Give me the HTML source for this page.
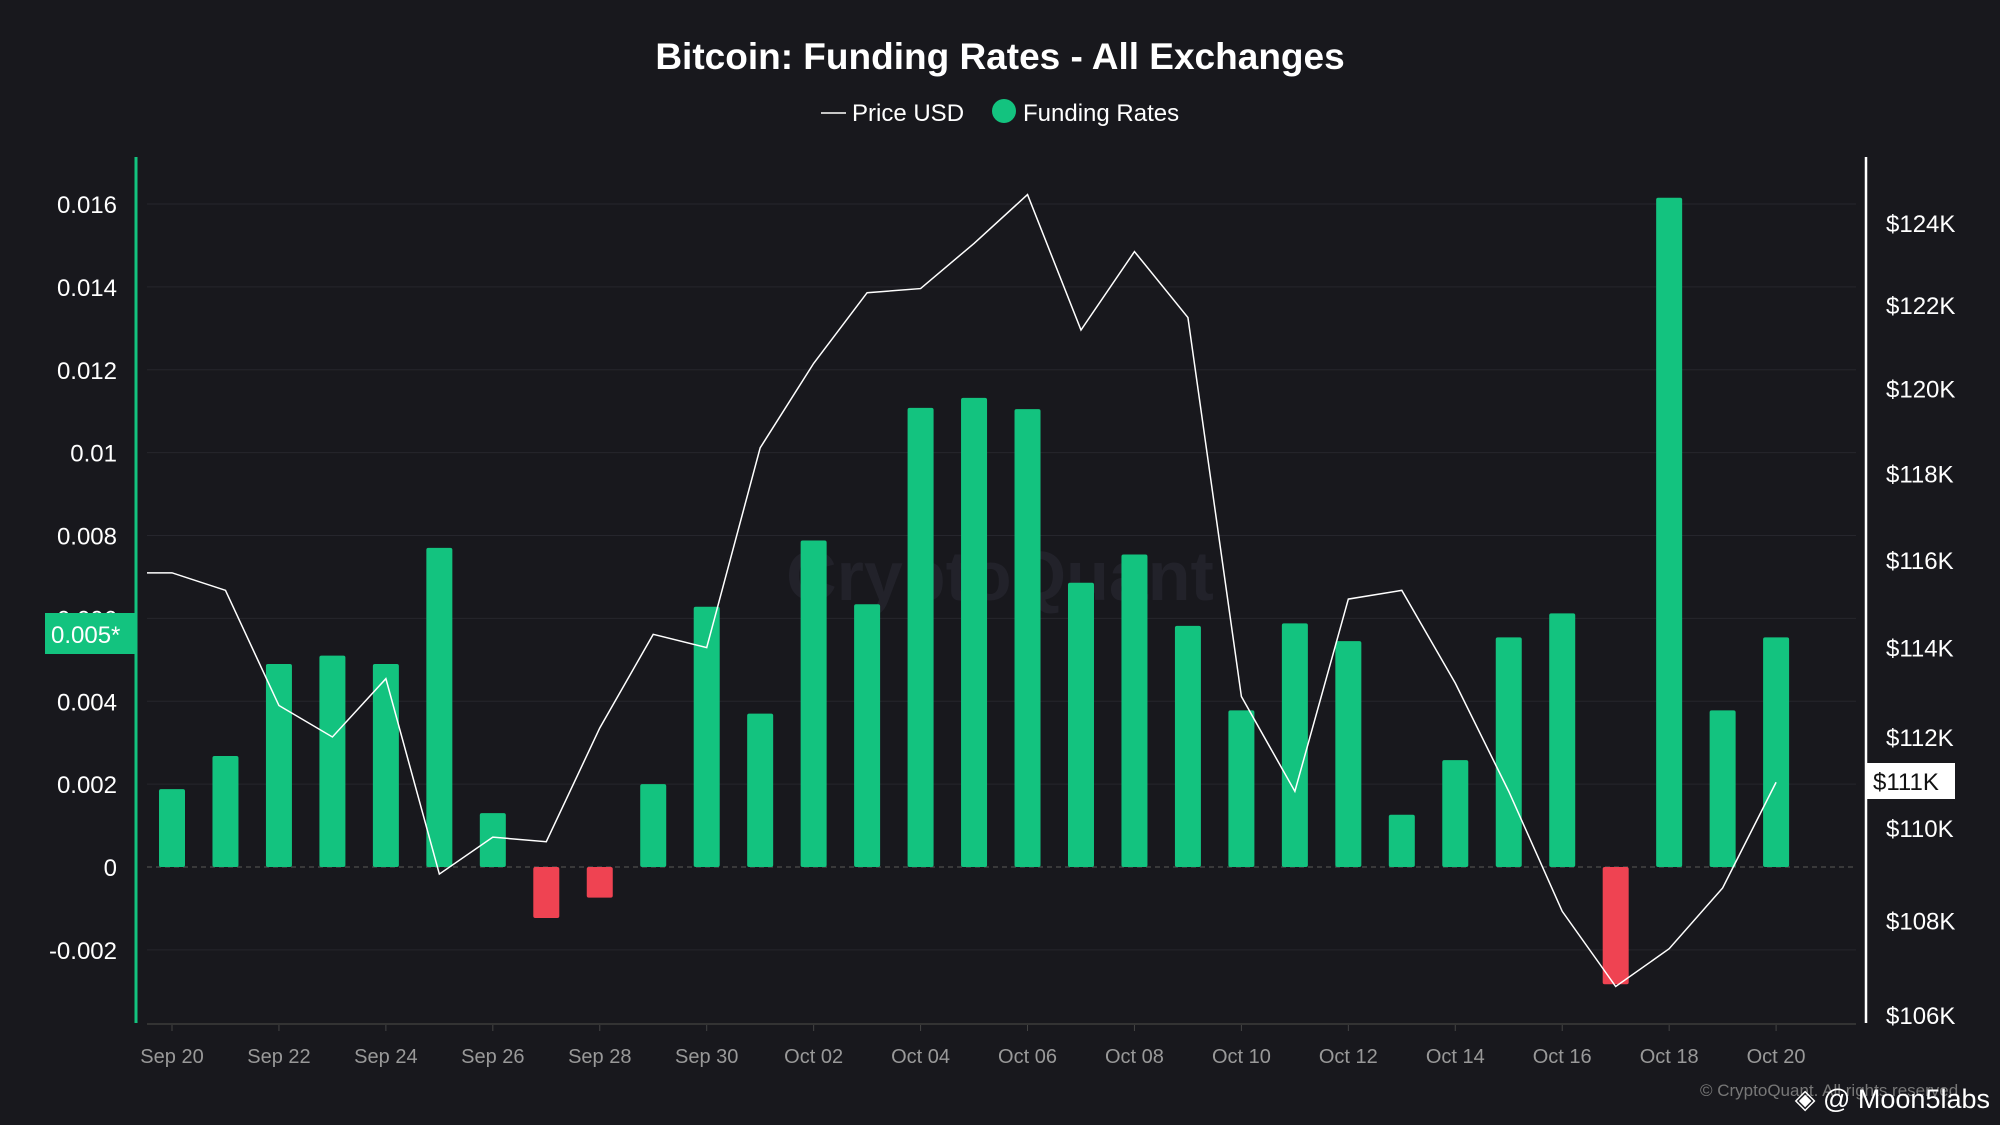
<!DOCTYPE html>
<html><head><meta charset="utf-8"><style>
html,body{margin:0;padding:0;background:#18181d;}
body{width:2000px;height:1125px;overflow:hidden;font-family:"Liberation Sans",sans-serif;}
</style></head><body>
<svg id="chart" width="2000" height="1125" xmlns="http://www.w3.org/2000/svg" style="position:absolute;left:0;top:0">
<rect width="2000" height="1125" fill="#18181d"/>
<text x="1000" y="69" text-anchor="middle" fill="#fff" font-size="37" font-weight="bold">Bitcoin: Funding Rates - All Exchanges</text>
<g>
<line x1="821" y1="113" x2="846" y2="113" stroke="#fff" stroke-width="1.5"/>
<text x="852" y="121" fill="#fff" font-size="24">Price USD</text>
<circle cx="1004" cy="111" r="12" fill="#13c37f"/>
<text x="1023" y="121" fill="#fff" font-size="24">Funding Rates</text>
</g>
<text x="1000" y="600" text-anchor="middle" fill="#22222a" font-size="70" font-weight="bold">CryptoQuant</text>
<g id="grid"></g><g id="bars"></g><g id="line"></g><g id="axes"></g>
<text x="1700" y="1096" fill="#777" font-size="17">© CryptoQuant. All rights reserved</text>
<text x="1990" y="1108" text-anchor="end" fill="#fff" font-size="27">◈ @ Moon5labs</text>
</svg>
<script>
const dates=["Sep 20","Sep 21","Sep 22","Sep 23","Sep 24","Sep 25","Sep 26","Sep 27","Sep 28","Sep 29","Sep 30","Oct 01","Oct 02","Oct 03","Oct 04","Oct 05","Oct 06","Oct 07","Oct 08","Oct 09","Oct 10","Oct 11","Oct 12","Oct 13","Oct 14","Oct 15","Oct 16","Oct 17","Oct 18","Oct 19","Oct 20"];
const funding=[0.00188,0.00268,0.0049,0.0051,0.0049,0.0077,0.0013,-0.00123,-0.00074,0.0020,0.00628,0.0037,0.00788,0.00634,0.01108,0.01132,0.01105,0.00686,0.00754,0.00582,0.00378,0.00588,0.00545,0.00126,0.00258,0.00554,0.00612,-0.00283,0.01615,0.00378,0.00554];
const price=[115.7,115.3,112.7,112.0,113.3,109.0,109.8,109.7,112.2,114.3,114.0,118.6,120.6,122.3,122.4,123.5,124.7,121.4,123.3,121.7,112.9,110.8,115.1,115.3,113.2,110.8,108.2,106.6,107.4,108.7,111.0];
const leftTicks=[-0.002,0,0.002,0.004,0.006,0.008,0.01,0.012,0.014,0.016];
const leftTickLabels=["-0.002","0","0.002","0.004","0.006","0.008","0.01","0.012","0.014","0.016"];
const rightTicks=[106,108,110,112,114,116,118,120,122,124];
const xTickIdx=[0,2,4,6,8,10,12,14,16,18,20,22,24,26,28,30];
const NS="http://www.w3.org/2000/svg";
const X0=172,DX=53.47,PL=147,PR=1856;
const x=i=>X0+i*DX;
const yL=v=>867-v*(663/0.016);
const yR=p=>223+792*Math.log(124/p)/Math.log(124/106);
function mk(tag,attrs,parent,txt){const e=document.createElementNS(NS,tag);for(const k in attrs)e.setAttribute(k,attrs[k]);if(txt!==undefined)e.textContent=txt;document.getElementById(parent).appendChild(e);return e;}
leftTicks.forEach((t,i)=>{
 if(t!==0){const g=mk('line',{x1:PL,x2:PR,y1:yL(t),y2:yL(t),stroke:'#26262d','stroke-width':1},'grid');
 
 }
 const l=mk('text',{x:117,y:yL(t)+9,'text-anchor':'end',fill:'#fff','font-size':24},'axes',leftTickLabels[i]);
 
 
});
const z=mk('line',{x1:PL,x2:PR,y1:yL(0),y2:yL(0),stroke:'#444','stroke-width':1.5,'stroke-dasharray':'5,4'},'grid');


funding.forEach((v,i)=>{
 const y0=yL(0),y1=yL(v);
 const r=mk('rect',{x:x(i)-13,y:Math.min(y0,y1),width:26,height:Math.abs(y1-y0),rx:2,fill:v>=0?'#13c37f':'#ef4352'},'bars');
 
 
});
let d=`M${PL},${yR(price[0])} `+price.map((p,i)=>`L${x(i)},${yR(p)}`).join(' ');
const pl=mk('path',{d:d,fill:'none',stroke:'#fff','stroke-width':1.5},'line');


rightTicks.forEach(t=>{
 const l=mk('text',{x:1886,y:yR(t)+9,fill:'#fff','font-size':24},'axes','$'+t+'K');
 
 
});
xTickIdx.forEach(i=>{
 const tk=mk('line',{x1:x(i),x2:x(i),y1:1024,y2:1031,stroke:'#444'},'axes');
 
 
 const l=mk('text',{x:x(i),y:1063,'text-anchor':'middle',fill:'#999','font-size':20},'axes',dates[i]);
 
 
});
const xa=mk('line',{x1:PL,x2:PR,y1:1024,y2:1024,stroke:'#333','stroke-width':2},'axes');


const la=mk('line',{x1:136,x2:136,y1:157,y2:1023,stroke:'#13c37f','stroke-width':3},'axes');


const ra=mk('line',{x1:1866,x2:1866,y1:157,y2:1023,stroke:'#fff','stroke-width':2.5},'axes');


const gb=mk('rect',{x:45,y:613,width:91,height:41,fill:'#13c37f'},'axes');


const gt=mk('text',{x:51,y:643,fill:'#fff','font-size':24},'axes','0.005*');


const pb=mk('rect',{x:1866,y:763,width:89,height:36,fill:'#fff'},'axes');


const pt=mk('text',{x:1873,y:790,fill:'#111','font-size':24},'axes','$111K');


</script>
</body></html>
